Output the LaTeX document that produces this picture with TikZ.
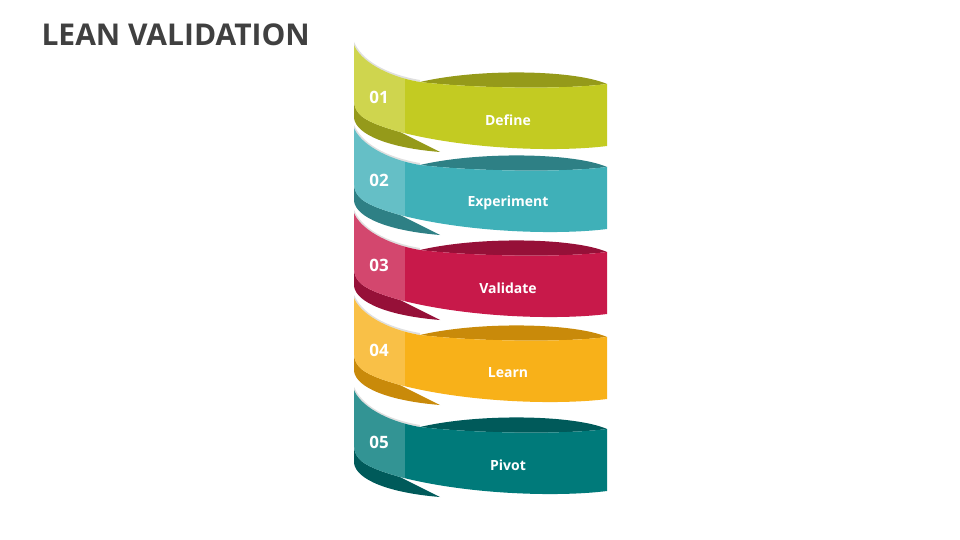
\documentclass[tikz,border=0pt]{standalone}
\usepackage{fontspec}
\setmainfont{Open Sans}
\definecolor{cA}{HTML}{C3CB22}\definecolor{dA}{HTML}{959A1A}
\definecolor{cB}{HTML}{3FB0B8}\definecolor{dB}{HTML}{2E8085}
\definecolor{cC}{HTML}{C8194A}\definecolor{dC}{HTML}{961038}
\definecolor{cD}{HTML}{F8B119}\definecolor{dD}{HTML}{C98A0A}
\definecolor{cE}{HTML}{007A7A}\definecolor{dE}{HTML}{005A5A}
\definecolor{titlec}{HTML}{404040}
\tikzset{num/.style={text=white,font=\bfseries\fontsize{17}{20}\selectfont},
lab/.style={text=white,font=\bfseries\fontsize{14}{17}\selectfont}}
\begin{document}
\begin{tikzpicture}[x=1pt,y=-1pt]
\useasboundingbox (0,0) rectangle (960,540);
\node[anchor=west,text=titlec,font=\bfseries\fontsize{30}{34}\selectfont] (title) at (38,35) {LEAN VALIDATION};
\foreach \o/\c/\d/\n/\t/\k in {0/cA/dA/01/Define/a,83/cB/dB/02/Experiment/b,168/cC/dC/03/Validate/c,253/cD/dD/04/Learn/d,345/cE/dE/05/Pivot/e}{
\begin{scope}[yshift=-\o pt]
 \fill[\d] (420,82) .. controls (480,68) and (575,70) .. (607,84) .. controls (560,90) and (470,88) .. (420,82);
 \fill[\d] (354,95) -- (354,118) .. controls (356,135) and (390,148) .. (440,152) -- (400,132) .. controls (365,122) and (354,115) .. (354,100) -- cycle;
 \fill[gray!25] (354,42) .. controls (362,60) and (385,74) .. (420,80) -- (420,82) .. controls (385,76) and (360,60) .. (354,45) -- cycle;
 \begin{scope}
 \clip (354,45) -- (354,100) .. controls (354,115) and (365,122) .. (400,132) .. controls (470,150) and (560,152) .. (607,146) -- (607,84) .. controls (560,90) and (470,88) .. (420,82) .. controls (385,76) and (360,60) .. (354,45);
 \fill[\c] (350,40) rectangle (610,160);
 \fill[white,opacity=0.2] (350,40) rectangle (405,160);
 \end{scope}
 \node[num] (n\k) at (379,97) {\n};
 \node[lab] (l\k) at (508,120) {\t};
\end{scope}}
\end{tikzpicture}
\end{document}
